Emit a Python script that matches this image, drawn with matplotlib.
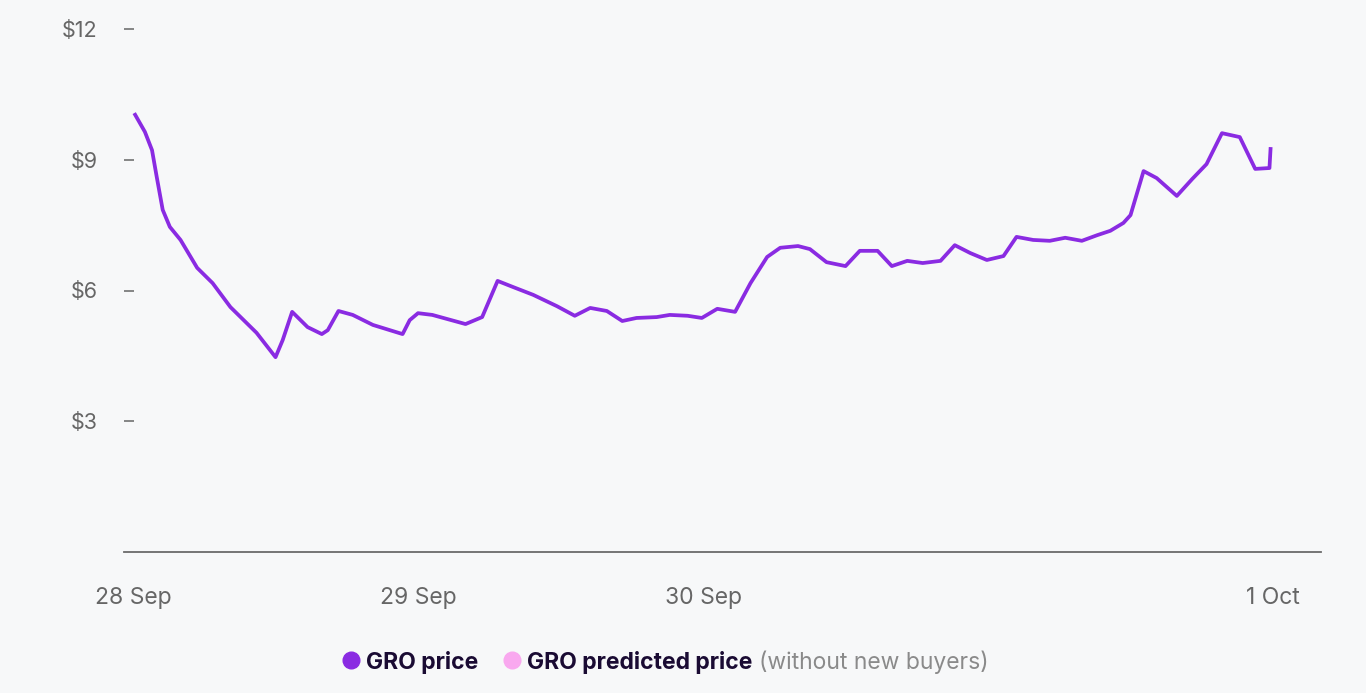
import matplotlib
matplotlib.use("Agg")
import matplotlib.pyplot as plt
from matplotlib.lines import Line2D

plt.rcParams['font.family'] = ['Inter', 'DejaVu Sans']

# hours since 28 Sep 00:00 and GRO price in $
hours = [0.1, 1.0, 1.6, 2.0, 2.5, 3.1, 4.0, 5.4, 6.7, 8.2, 10.4, 12.0, 12.6, 13.4, 14.7,
         15.9, 16.4, 17.3, 18.5, 20.2, 22.7, 23.3, 24.0, 25.2, 28.0, 29.4, 30.7, 32.0,
         33.7, 35.7, 37.2, 38.5, 39.9, 41.2, 42.4, 44.1, 45.2, 46.7, 47.9, 49.2, 50.7,
         52.0, 53.4, 54.5, 56.0, 57.0, 58.4, 60.0, 61.2, 62.7, 63.9, 65.2, 66.5, 68.0,
         69.2, 70.5, 71.9, 73.3, 74.4, 75.8, 77.2, 78.5, 79.9, 81.2, 82.3, 83.4, 84.0,
         85.1, 86.2, 87.9, 89.2, 90.4, 91.7, 93.2, 94.5, 95.7, 95.8]
price = [10.07, 9.64, 9.22, 8.60, 7.85, 7.46, 7.16, 6.52, 6.17, 5.62, 5.03, 4.47, 4.86,
         5.51, 5.16, 5.00, 5.09, 5.53, 5.44, 5.21, 5.00, 5.32, 5.48, 5.44, 5.23, 5.39,
         6.22, 6.08, 5.90, 5.64, 5.42, 5.60, 5.53, 5.30, 5.37, 5.39, 5.44, 5.42, 5.37,
         5.58, 5.51, 6.17, 6.77, 6.98, 7.02, 6.95, 6.65, 6.56, 6.91, 6.91, 6.56, 6.68,
         6.63, 6.68, 7.04, 6.86, 6.70, 6.79, 7.23, 7.16, 7.14, 7.21, 7.14, 7.27, 7.37,
         7.55, 7.73, 8.74, 8.58, 8.17, 8.56, 8.90, 9.61, 9.52, 8.79, 8.81, 9.29]

x_ticks = [0, 24, 48, 96]
x_labels = ['28 Sep', '29 Sep', '30 Sep', '1 Oct']
y_ticks = [3, 6, 9, 12]
y_labels = ['$3', '$6', '$9', '$12']

bg = '#f7f8f9'
purple = '#8a2be2'
pink = '#f9a8ef'
grey = '#666666'

fig = plt.figure(figsize=(13.66, 6.93), dpi=100, facecolor=bg)
ax = fig.add_axes([124/1366, 141/693, 1197/1366, 523/693], facecolor=bg)

ax.plot(hours, price, color=purple, lw=2.7, solid_joinstyle='round', solid_capstyle='butt')

ax.set_xlim(-0.76, 100.04)
ax.set_ylim(0, 12)
ax.set_xticks(x_ticks, x_labels)
ax.set_yticks(y_ticks, y_labels)

for s in ['top', 'right', 'left']:
    ax.spines[s].set_visible(False)
ax.spines['bottom'].set_color('#6b6b6b')
ax.spines['bottom'].set_linewidth(1.3)

ax.tick_params(axis='y', direction='in', length=7, width=1.1, color=grey,
               labelcolor=grey, labelsize=15.5, pad=19)
ax.tick_params(axis='x', length=0, labelcolor=grey, labelsize=16.5, pad=25)

handles = [Line2D([], [], marker='o', ls='', color=purple, markersize=12),
           Line2D([], [], marker='o', ls='', color=pink, markersize=12)]
leg = fig.legend(handles, ['GRO price', 'GRO predicted price'], loc='center left',
                 bbox_to_anchor=(328/1366, 31/693), ncol=2, frameon=False,
                 handletextpad=0.15, columnspacing=1.0, borderpad=0, handlelength=1.0,
                 prop={'size': 16.5, 'weight': 'bold'})
for t in leg.get_texts():
    t.set_color('#1a0b33')

fig.canvas.draw()
bb = leg.get_texts()[1].get_window_extent()
fig.text((bb.x1 + 6) / 1366, 31/693, '(without new buyers)', color='#8a8a8a',
         fontsize=16.5, va='center', ha='left')

fig.savefig('out.png', dpi=100, facecolor=bg)
